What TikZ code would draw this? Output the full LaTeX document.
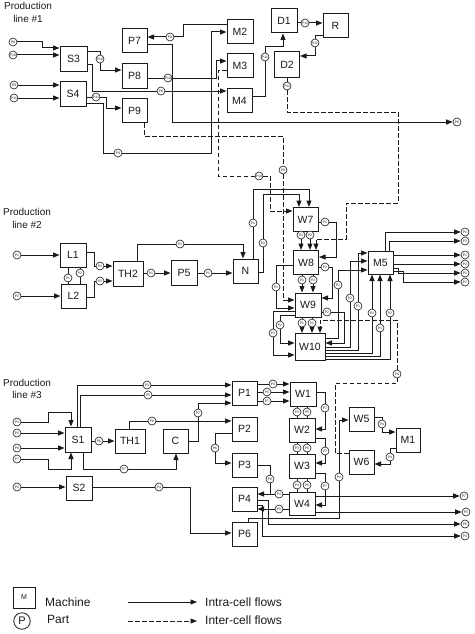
\documentclass[tikz,border=0pt]{standalone}
\usepackage{fontspec}
\setmainfont{Liberation Sans}
\usetikzlibrary{arrows.meta,backgrounds}
\definecolor{ln}{HTML}{1A1A1A}
\begin{document}
\begin{tikzpicture}[x=1pt,y=-1pt,
  box/.style={draw=ln,fill=white,line width=1pt,minimum width=25pt,minimum height=24pt,inner sep=0pt,font=\fontsize{10.5}{12}\selectfont,text=ln},
  partc/.style={circle,draw=ln,fill=white,line width=0.6pt,minimum size=8pt,inner sep=0pt,font=\fontsize{3.4}{4}\selectfont,text=ln},
  flow/.style={draw=ln,line width=1pt,-{Triangle[length=6.5pt,width=5pt]}},
  link/.style={draw=ln,line width=1pt},
  iflow/.style={flow,dash pattern=on 4.5pt off 2.5pt},
  ilink/.style={link,dash pattern=on 4.5pt off 2.5pt},
  title/.style={align=center,font=\fontsize{10}{12.5}\selectfont,text=ln},
  lgtext/.style={anchor=west,inner sep=0pt,font=\fontsize{12}{14}\selectfont,text=ln}]
\useasboundingbox (0,0) rectangle (474,634);

% ---------- titles
\node[title] (t1) at (28,12.5) {Production\\line \#1};
\node[title] (t2) at (27,218.5) {Production\\line \#2};
\node[title] (t3) at (27,389) {Production\\line \#3};

% ---------- line 1 machines
\node[box,minimum width=27pt] (S3) at (73.5,59) {S3};
\node[box,minimum width=26pt,minimum height=25pt] (S4) at (73,93.5) {S4};
\node[box] (P7) at (134.5,40.5) {P7};
\node[box] (P8) at (134.5,76) {P8};
\node[box] (P9) at (134.5,110.5) {P9};
\node[box,minimum width=26pt] (M2) at (240,32) {M2};
\node[box,minimum width=26pt] (M3) at (240,65.5) {M3};
\node[box] (M4) at (239.5,100.5) {M4};
\node[box,minimum width=26pt] (D1) at (284,21) {D1};
\node[box] (R) at (335.5,26) {R};
\node[box,minimum height=25pt] (D2) at (287,64.5) {D2};

% line 1 parts
\node[partc] (a1) at (13,42) {P8};
\node[partc] (a2) at (13,55) {P10};
\node[partc] (a3) at (14,85) {P9};
\node[partc] (a4) at (14,98) {P11};
\node[partc] (q1) at (100,59) {P10};
\node[partc] (q2) at (161,91) {P8};
\node[partc] (q3) at (96,97) {P11};
\node[partc] (q4) at (118,153) {P9};
\node[partc] (q5) at (170,37) {P8};
\node[partc] (q6) at (168,78) {P10};
\node[partc] (q7) at (305,23) {P11};
\node[partc] (q8) at (315,43) {P11};
\node[partc] (q9) at (265,57) {P11};
\node[partc] (q10) at (287,86) {P11};
\node[partc] (q11) at (259,176) {P10};
\node[partc] (q12) at (283,170) {P9};
\node[partc] (q13) at (457,122) {P8};

% ---------- line 2 machines
\node[box,minimum width=26pt] (L1) at (73,255) {L1};
\node[box] (L2) at (73.5,296) {L2};
\node[box,minimum width=30pt,minimum height=25pt] (TH2) at (128,273.5) {TH2};
\node[box,minimum width=26pt,minimum height=25pt] (P5) at (184,272.5) {P5};
\node[box] (N) at (245.5,271) {N};
\node[box] (W7) at (305.5,219.5) {W7};
\node[box] (W8) at (306,262.5) {W8};
\node[box,minimum width=26pt] (W9) at (308,305) {W9};
\node[box,minimum width=30pt,minimum height=27pt] (W10) at (310,347) {W10};
\node[box,minimum height=23pt] (M5) at (380.5,262.5) {M5};

% line 2 parts
\node[partc] (b1) at (17,255) {P1};
\node[partc] (b2) at (17,296) {P2};
\node[partc] (b3) at (68,278) {P1};
\node[partc] (b4) at (80,273) {P2};
\node[partc] (b5) at (100,266) {P1};
\node[partc] (b6) at (100,281) {P2};
\node[partc] (b7) at (151,273) {P1};
\node[partc] (b8) at (208,273) {P1};
\node[partc] (b9) at (180,244) {P2};
\node[partc] (b10) at (253,223) {P1};
\node[partc] (b11) at (263,243) {P2};
\node[partc] (b12) at (301,235) {P1};
\node[partc] (b13) at (310,235) {P2};
\node[partc] (b14) at (325,222) {P1};
\node[partc] (b15) at (302,280) {P1};
\node[partc] (b16) at (313,280) {P2};
\node[partc] (b17) at (325,267) {P2};
\node[partc] (b18) at (276,287) {P1};
\node[partc] (b19) at (302,323) {P1};
\node[partc] (b20) at (312,323) {P2};
\node[partc] (b21) at (327,312) {P2};
\node[partc] (b22) at (273,333) {P1};
\node[partc] (b23) at (280,325) {P2};
\node[partc] (b24) at (338,285) {P1};
\node[partc] (b25) at (350,298) {P2};
\node[partc] (b26) at (358,306) {P1};
\node[partc] (b27) at (372,313) {P2};
\node[partc] (b28) at (380,328) {P1};
\node[partc] (b29) at (390,313) {P2};
\node[partc] (b30) at (397,374) {P4};
\node[partc] (o1) at (465,232) {P1};
\node[partc] (o2) at (465,241) {P2};
\node[partc] (o3) at (465,255) {P1};
\node[partc] (o4) at (465,264) {P2};
\node[partc] (o5) at (465,273) {P1};
\node[partc] (o6) at (465,282) {P2};

% ---------- line 3 machines
\node[box,minimum width=26pt,minimum height=25pt] (S1) at (78,439.5) {S1};
\node[box,minimum width=26pt] (S2) at (79,488) {S2};
\node[box,minimum width=30pt] (TH1) at (130,441) {TH1};
\node[box] (C) at (175.5,441) {C};
\node[box] (P1) at (244.5,393) {P1};
\node[box] (P2) at (244.5,429) {P2};
\node[box] (P3) at (244.5,465) {P3};
\node[box] (P4) at (244.5,499) {P4};
\node[box] (P6) at (244.5,534) {P6};
\node[box,minimum width=26pt] (W1) at (303,394) {W1};
\node[box,minimum width=26pt] (W2) at (302,430) {W2};
\node[box,minimum width=26pt] (W3) at (302,466) {W3};
\node[box,minimum width=26pt,minimum height=23pt] (W4) at (302,503.5) {W4};
\node[box] (W5) at (361.5,419) {W5};
\node[box] (W6) at (361.5,462) {W6};
\node[box,minimum width=24pt] (M1) at (408,440) {M1};

% line 3 parts
\node[partc] (c1) at (17,422) {P3};
\node[partc] (c2) at (17,433) {P5};
\node[partc] (c3) at (17,448) {P6};
\node[partc] (c4) at (17,459) {P7};
\node[partc] (c5) at (17,487) {P4};
\node[partc] (c6) at (147,385) {P3};
\node[partc] (c7) at (148,395) {P5};
\node[partc] (c8) at (99,441) {P6};
\node[partc] (c9) at (152,421) {P6};
\node[partc] (c10) at (124,469) {P7};
\node[partc] (c11) at (198,413) {P7};
\node[partc] (c12) at (159,487) {P4};
\node[partc] (c13) at (215,448) {P6};
\node[partc] (c14) at (273,384) {P3};
\node[partc] (c15) at (267,392) {P5};
\node[partc] (c16) at (267,401) {P7};
\node[partc] (c17) at (297,412) {P3};
\node[partc] (c18) at (307,412) {P5};
\node[partc] (c19) at (325,408) {P7};
\node[partc] (c20) at (297,448) {P3};
\node[partc] (c21) at (307,448) {P5};
\node[partc] (c22) at (325,451) {P7};
\node[partc] (c23) at (297,485) {P3};
\node[partc] (c24) at (307,485) {P5};
\node[partc] (c25) at (325,486) {P7};
\node[partc] (c26) at (270,479) {P6};
\node[partc] (c27) at (279,494) {P3};
\node[partc] (c28) at (279,509) {P5};
\node[partc] (c29) at (339,477) {P4};
\node[partc] (c30) at (382,424) {P4};
\node[partc] (c31) at (390,457) {P4};
\node[partc] (e1) at (464,496) {P7};
\node[partc] (e2) at (466,512) {P5};
\node[partc] (e3) at (465,524) {P6};
\node[partc] (e4) at (465,536) {P3};
\coordinate (j1) at (270,494);

% ---------- legend
\node[box,minimum width=22pt,minimum height=21pt,font=\fontsize{7}{8}\selectfont] (lgM) at (24,597.5) {M};
\node[lgtext] (lgMt) at (45,602) {Machine};
\node[circle,draw=ln,line width=0.8pt,minimum size=16.5pt,inner sep=0pt,font=\fontsize{11}{12}\selectfont,text=ln] (lgP) at (22,621) {P};
\node[lgtext] (lgPt) at (47,619.5) {Part};
\coordinate (lg1a) at (128,602);
\coordinate (lg1b) at (197,602);
\coordinate (lg2a) at (128,621);
\coordinate (lg2b) at (197,621);
\node[lgtext] (lgIa) at (205,602) {Intra-cell flows};
\node[lgtext] (lgIe) at (205,620) {Inter-cell flows};

\begin{scope}[on background layer]
\fill[white] (0,0) rectangle (474,634);
% ----- line 1 connectors
\draw[flow] (a1) -- (42,42) -- (42,48) -- (S3.west|-0,48);
\draw[flow] (a2) -- (S3.west|-0,55);
\draw[flow] (a3) -- (S4.west|-0,85);
\draw[flow] (a4) -- (S4.west|-0,98);
\draw[flow] (S3.east|-0,52) -- (100,52) -- (q1) -- (100,70) -- (P8.west|-0,70);
\draw[flow] (S3.east|-0,65) -- (92,65) -- (92,91) -- (q2) -- (M4.west|-0,91);
\draw[flow] (S4.east|-0,97) -- (q3) -- (106,97) -- (106,108) -- (P9.west|-0,108);
\draw[flow] (S4.east|-0,103) -- (103,103) -- (103,153) -- (q4) -- (211,153) -- (211,32) -- (M2.west|-0,32);
\draw[flow] (M2.west|-0,25) -- (183,25) -- (183,37) -- (q5) -- (P7.east|-0,37);
\draw[flow] (P8.east|-0,78) -- (q6) -- (216,78) -- (216,61) -- (M3.west|-0,61);
\draw[flow] (P7.east|-0,45) -- (172,45) -- (172,122) -- (q13);
\draw[flow] (M4.east|-0,96) -- (265,96) -- (q9) -- (265,47) -- (283,47) -- (283,0|-D1.south);
\draw[flow] (D1.east|-0,23) -- (q7) -- (R.west|-0,23);
\draw[flow] (R.west|-0,36) -- (315,36) -- (q8) -- (315,56) -- (D2.east|-0,56);
\draw[link] (D2) -- (q10);
\draw[iflow] (q10) -- (287,112) -- (398,112) -- (398,203) -- (346,203) -- (346,239) -- (316,239) -- (316,0|-W8.north);
\draw[iflow] (M3.west|-0,70) -- (218,70) -- (218,176) -- (q11) -- (270,176) -- (270,211) -- (W7.west|-0,211);
\draw[iflow] (144,0|-P9.south) -- (144,136) -- (283,136) -- (q12) -- (283,300) -- (W9.west|-0,300);

% ----- line 2 connectors
\draw[flow] (b1) -- (L1.west|-0,255);
\draw[flow] (b2) -- (L2.west|-0,296);
\draw[link] (68,0|-L1.south) -- (b3) -- (68,0|-L2.north);
\draw[link] (80,0|-L1.south) -- (b4) -- (80,0|-L2.north);
\draw[flow] (L1.east|-0,252) -- (94,252) -- (94,266) -- (b5) -- (TH2.west|-0,266);
\draw[flow] (L2.east|-0,297) -- (94,297) -- (94,281) -- (b6) -- (TH2.west|-0,281);
\draw[flow] (TH2.east|-0,273) -- (b7) -- (P5.west|-0,273);
\draw[flow] (P5.east|-0,273) -- (b8) -- (N.west|-0,273);
\draw[flow] (137,0|-TH2.north) -- (137,244) -- (b9) -- (243,244) -- (243,0|-N.north);
\draw[flow] (253,0|-N.north) -- (b10) -- (253,189) -- (309,189) -- (309,0|-W7.north);
\draw[flow] (N.east|-0,272) -- (263,272) -- (b11) -- (263,194) -- (299,194) -- (299,0|-W7.north);
\draw[flow] (301,0|-W7.south) -- (b12) -- (301,0|-W8.north);
\draw[flow] (310,0|-W7.south) -- (b13) -- (310,0|-W8.north);
\draw[flow] (W7.east|-0,222) -- (b14) -- (336,222) -- (336,257) -- (W8.east|-0,257);
\draw[flow] (302,0|-W8.south) -- (b15) -- (302,0|-W9.north);
\draw[flow] (313,0|-W8.south) -- (b16) -- (313,0|-W9.north);
\draw[flow] (W8.east|-0,267) -- (b17) -- (332,267) -- (332,298) -- (W9.east|-0,298);
\draw[flow] (W8.west|-0,265) -- (276,265) -- (b18) -- (276,308) -- (W9.west|-0,308);
\draw[flow] (302,0|-W9.south) -- (b19) -- (302,0|-W10.north);
\draw[flow] (312,0|-W9.south) -- (b20) -- (312,0|-W10.north);
\draw[flow] (W9.east|-0,312) -- (b21) -- (344,312) -- (344,343) -- (W10.east|-0,343);
\draw[flow] (W9.west|-0,311) -- (273,311) -- (b22) -- (273,355) -- (W10.west|-0,355);
\draw[flow] (W9.west|-0,315) -- (280,315) -- (b23) -- (280,343) -- (W10.west|-0,343);
\draw[flow] (W10.east|-0,338) -- (338,338) -- (b24) -- (338,270) -- (M5.west|-0,270);
\draw[flow] (W10.east|-0,347) -- (350,347) -- (b25) -- (350,261) -- (M5.west|-0,261);
\draw[flow] (W10.east|-0,350) -- (358,350) -- (b26) -- (358,253) -- (M5.west|-0,253);
\draw[flow] (W10.east|-0,353) -- (372,353) -- (b27) -- (372,0|-M5.south);
\draw[flow] (W10.east|-0,356) -- (380,356) -- (b28) -- (380,0|-M5.south);
\draw[flow] (W10.east|-0,359) -- (390,359) -- (b29) -- (390,0|-M5.south);
\draw[flow] (385,0|-M5.north) -- (385,232) -- (o1);
\draw[flow] (389,0|-M5.north) -- (389,241) -- (o2);
\draw[flow] (M5.east|-0,255) -- (o3);
\draw[flow] (M5.east|-0,264) -- (o4);
\draw[flow] (M5.east|-0,268) -- (398,268) -- (398,273) -- (o5);
\draw[flow] (M5.east|-0,271) -- (403,271) -- (403,282) -- (o6);
\draw[ilink] (W6.west|-0,453) -- (335,453) -- (335,383) -- (397,383) -- (b30);
\draw[iflow] (b30) -- (397,320) -- (320,320) -- (320,0|-W10.north);

% ----- line 3 connectors
\draw[flow] (c1) -- (48,422) -- (48,412) -- (71,412) -- (71,0|-S1.north);
\draw[flow] (c2) -- (S1.west|-0,433);
\draw[flow] (c3) -- (S1.west|-0,448);
\draw[flow] (c4) -- (48,459) -- (48,469) -- (71,469) -- (71,0|-S1.south);
\draw[flow] (c5) -- (S2.west|-0,487);
\draw[flow] (77,0|-S1.north) -- (77,385) -- (c6) -- (P1.west|-0,385);
\draw[flow] (80,0|-S1.north) -- (80,395) -- (c7) -- (P1.west|-0,395);
\draw[flow] (S1.east|-0,441) -- (c8) -- (TH1.west|-0,441);
\draw[flow] (129,0|-TH1.north) -- (129,421) -- (c9) -- (P2.west|-0,421);
\draw[flow] (83,0|-S1.south) -- (83,469) -- (c10) -- (176,469) -- (176,0|-C.south);
\draw[flow] (C.east|-0,441) -- (198,441) -- (c11) -- (198,403) -- (P1.west|-0,403);
\draw[flow] (S2.east|-0,487) -- (c12) -- (190,487) -- (190,533) -- (P6.west|-0,533);
\draw[flow] (P2.west|-0,433) -- (215,433) -- (c13) -- (215,463) -- (P3.west|-0,463);
\draw[flow] (P1.east|-0,384) -- (c14) -- (W1.west|-0,384);
\draw[flow] (P1.east|-0,392) -- (c15) -- (W1.west|-0,392);
\draw[flow] (P1.east|-0,401) -- (c16) -- (W1.west|-0,401);
\draw[link] (297,0|-W1.south) -- (c17) -- (297,0|-W2.north);
\draw[link] (307,0|-W1.south) -- (c18) -- (307,0|-W2.north);
\draw[link] (297,0|-W2.south) -- (c20) -- (297,0|-W3.north);
\draw[link] (307,0|-W2.south) -- (c21) -- (307,0|-W3.north);
\draw[link] (297,0|-W3.south) -- (c23) -- (297,0|-W4.north);
\draw[link] (307,0|-W3.south) -- (c24) -- (307,0|-W4.north);
\draw[flow] (W1.east|-0,392) -- (325,392) -- (c19) -- (325,429) -- (W2.east|-0,429);
\draw[flow] (W2.east|-0,438) -- (325,438) -- (c22) -- (325,463) -- (W3.east|-0,463);
\draw[flow] (W3.east|-0,473) -- (325,473) -- (c25) -- (325,505) -- (W4.east|-0,505);
\draw[flow] (W4.east|-0,496) -- (e1);
\draw[flow] (W4.east|-0,512) -- (e2);
\draw[flow] (W4.west|-0,494) -- (c27) -- (P4.east|-0,494);
\draw[flow] (W4.west|-0,509) -- (c28) -- (P4.east|-0,509);
\draw[link] (P3.east|-0,465) -- (270,465) -- (c26) -- (j1);
\draw[flow] (P4.east|-0,500) -- (268,500) -- (268,524) -- (e3);
\draw[flow] (P4.east|-0,505) -- (262,505) -- (262,536) -- (e4);
\draw[flow] (248,0|-P6.north) -- (248,518) -- (339,518) -- (c29) -- (339,420) -- (W5.west|-0,420);
\draw[flow] (W5.east|-0,417) -- (382,417) -- (c30) -- (382,432) -- (M1.west|-0,432);
\draw[flow] (M1.west|-0,448) -- (390,448) -- (c31) -- (390,464) -- (W6.east|-0,464);

% ----- legend connectors
\draw[flow,line width=0.7pt] (lg1a) -- (lg1b);
\draw[iflow,line width=0.7pt] (lg2a) -- (lg2b);
\end{scope}
\end{tikzpicture}
\end{document}
